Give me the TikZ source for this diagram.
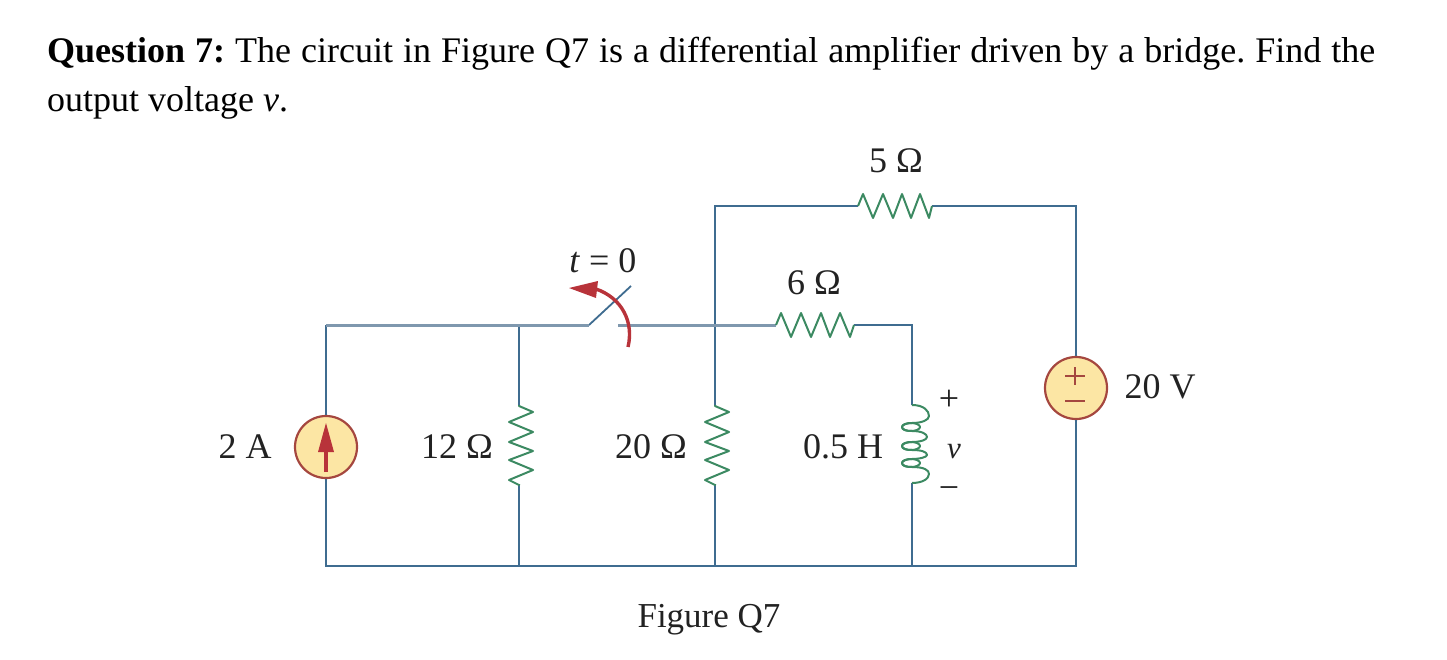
\documentclass[tikz,border=0pt]{standalone}
\usepackage{fontspec}
\setmainfont{Liberation Serif}
\frenchspacing
\definecolor{wireblue}{HTML}{3F6C90}
\definecolor{wiregray}{HTML}{7F98AE}
\definecolor{resgreen}{HTML}{3C8A62}
\definecolor{srcfill}{HTML}{FCE6A4}
\definecolor{srcedge}{HTML}{A5473F}
\definecolor{arrred}{HTML}{B8333A}
\definecolor{ink}{HTML}{222222}
\tikzset{
  wire/.style={draw=wireblue,line width=1.8pt},
  wirethick/.style={draw=wiregray,line width=3pt},
  compo/.style={draw=resgreen,line width=2pt,line join=round},
  srccircle/.style={circle,draw=srcedge,fill=srcfill,line width=2.2pt,minimum size=62pt,inner sep=0pt},
  lab/.style={inner sep=0pt,text=ink,font=\fontsize{36}{40}\selectfont},
  smalllab/.style={inner sep=0pt,text=ink,font=\fontsize{36}{40}\selectfont},
  redarrow/.style={draw=arrred,line width=3.4pt},
  redfill/.style={fill=arrred,draw=none},
}
\begin{document}
\begin{tikzpicture}[x=1pt,y=-1pt]
\useasboundingbox (0,0) rectangle (1447,660);
% text
\node[anchor=north west,inner sep=0pt,text=black,text width=1328pt,align=justify,font=\fontsize{36}{49}\selectfont] (question) at (47,37)
 {\frenchspacing\textbf{Question 7:} The circuit in Figure Q7 is a differential amplifier driven by a bridge. Find the\linebreak output voltage \textit{v}.};
% junction coordinates
\coordinate (TL) at (326,325);
\coordinate (J12) at (519,325);
\coordinate (SwL) at (589,325);
\coordinate (SwTip) at (631,286);
\coordinate (SwR) at (618,325);
\coordinate (J20) at (715,325);
\coordinate (R6L) at (776,325);
\coordinate (R6R) at (854,325);
\coordinate (TI) at (912,325);
\coordinate (T20) at (715,206);
\coordinate (R5L) at (858,206);
\coordinate (R5R) at (932,206);
\coordinate (TR) at (1076,206);
\coordinate (BL) at (326,566);
\coordinate (B12) at (519,566);
\coordinate (B20) at (715,566);
\coordinate (BI) at (912,566);
\coordinate (BR) at (1076,566);
\coordinate (R12T) at (519,405);
\coordinate (R12B) at (519,484);
\coordinate (R20T) at (715,405);
\coordinate (R20B) at (715,484);
\coordinate (LT) at (912,405);
\coordinate (LB) at (912,483);
% sources
\node[srccircle] (isrc) at (326,447) {};
\node[srccircle] (vsrc) at (1076,388) {};
% wires
\draw[wire] (isrc) -- (TL);
\draw[wire] (isrc) -- (BL) -- (BR) -- (vsrc);
\draw[wire] (J12) -- (R12T);
\draw[wire] (R12B) -- (B12);
\draw[wire] (R20T) -- (T20) -- (R5L);
\draw[wire] (R20B) -- (B20);
\draw[wire] (R5R) -- (TR) -- (vsrc);
\draw[wire] (R6R) -- (TI) -- (LT);
\draw[wire] (LB) -- (BI);
\draw[wire] (SwL) -- (SwTip);
% thick horizontal wires
\draw[wirethick] (TL) -- (SwL);
\draw[wirethick] (SwR) -- (R6L);
% resistors
\draw[compo] (R6L) -- ++(5,-12) -- ++(10,24) -- ++(10,-24) -- ++(10,24) -- ++(10,-24) -- ++(9,24) -- ++(10,-24) -- ++(10,24) -- (R6R);
\draw[compo] (R5L) -- ++(5,-12) -- ++(10,24) -- ++(10,-24) -- ++(10,24) -- ++(9,-24) -- ++(9,24) -- ++(9,-24) -- ++(9,24) -- (R5R);
\draw[compo] (R12T) -- ++(0,1) -- ++(14,6) -- ++(-24,10) -- ++(24,10) -- ++(-24,10) -- ++(24,9) -- ++(-24,9) -- ++(24,10) -- ++(-24,10) -- ++(10,5) -- (R12B);
\draw[compo] (R20T) -- ++(0,1) -- ++(14,6) -- ++(-24,10) -- ++(24,10) -- ++(-24,10) -- ++(24,9) -- ++(-24,9) -- ++(24,10) -- ++(-24,10) -- ++(10,5) -- (R20B);
% inductor
\draw[compo] (LT) .. controls (924,405) and (929,411) .. (929,416)
  .. controls (929,420) and (922,423) .. (912,423)
  .. controls (906,423) and (902,425) .. (902,427)
  .. controls (902,430) and (906,431) .. (912,431)
  .. controls (922,431) and (927,434) .. (927,437)
  .. controls (927,440) and (920,442) .. (912,442)
  .. controls (906,442) and (902,444) .. (902,446)
  .. controls (902,449) and (906,450) .. (912,450)
  .. controls (922,450) and (927,452) .. (927,455)
  .. controls (927,457) and (920,459) .. (912,459)
  .. controls (906,459) and (902,461) .. (902,463)
  .. controls (902,466) and (906,467) .. (912,467)
  .. controls (924,467) and (929,470) .. (929,474)
  .. controls (929,479) and (922,483) .. (LB);
\draw[compo] (911,427) ellipse [x radius=9,y radius=4];
\draw[compo] (911,446) ellipse [x radius=9,y radius=4];
\draw[compo] (911,463) ellipse [x radius=9,y radius=4];
% source symbols
\draw[arrred,line width=3.4pt] (326,472) -- (326,450);
\fill[redfill] (326,423) -- (334,452) -- (318,452) -- cycle;
\draw[srcedge,line width=2.2pt] (1075,367) -- (1075,385) (1065,376) -- (1085,376);
\draw[srcedge,line width=2.2pt] (1065,401) -- (1085,401);
% switch arrow
\draw[redarrow] (628,347) .. controls (634,322) and (622,298) .. (596,289);
\fill[redfill] (569,288) -- (598,281) -- (596,298) -- cycle;
% labels
\node[lab] (l5) at (896,161) {5 Ω};
\node[lab] (l6) at (814,283) {6 Ω};
\node[lab] (lt) at (603,261) {\textit{t} = 0};
\node[lab] (l2a) at (245,447) {2 A};
\node[lab] (l12) at (457,447) {12 Ω};
\node[lab] (l20) at (651,447) {20 Ω};
\node[lab] (l05) at (843,447) {0.5 H};
\node[lab] (l20v) at (1160,387) {20 V};
\node[smalllab] (lplus) at (949,400) {+};
\node[smalllab] (lv) at (954,452) {\fontsize{31}{36}\selectfont\textit{v}};
\node[smalllab] (lminus) at (949,493) {−};
\node[lab] (fig) at (709,620) {\fontsize{35}{40}\selectfont Figure Q7};
\end{tikzpicture}
\end{document}
